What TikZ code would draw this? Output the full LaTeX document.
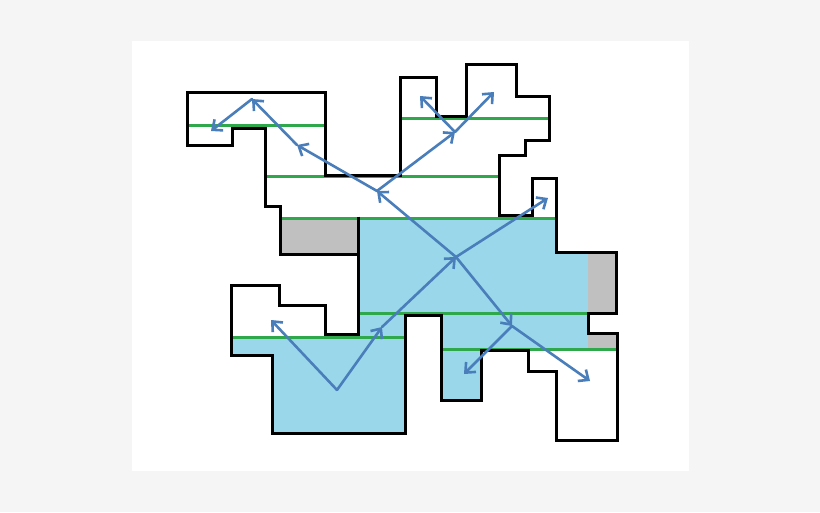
\documentclass[tikz,border=0pt]{standalone}
\usetikzlibrary{arrows.meta}
\definecolor{bg}{HTML}{F5F5F5}
\definecolor{pool}{HTML}{9AD7EA}
\definecolor{rock}{HTML}{C0C0C0}
\definecolor{lev}{HTML}{2EA84A}
\definecolor{ray}{HTML}{4A7EBB}
\tikzset{
  wall/.style={draw=black, line width=3pt, line join=miter},
  level/.style={draw=lev, line width=3pt},
  rayarrow/.style={draw=ray, line width=2.6pt, line cap=round,
    -{Straight Barb[length=8pt,width=14pt,line width=2.6pt]}}
}
\begin{document}
\begin{tikzpicture}[x=1pt,y=-1pt]
\fill[bg] (0,0) rectangle (820,512);
\useasboundingbox (0,0) rectangle (820,512);
\fill[white] (132,41) rectangle (689,471);
% water
\fill[pool] (359,218) -- (556,218) -- (556,252) -- (588,252) -- (588,349) -- (481.7,349)
  -- (481.7,400) -- (441.7,400) -- (441.7,315.7) -- (405.7,315.7) -- (405.7,433.3)
  -- (272.3,433.3) -- (272.3,355) -- (231.7,355) -- (231.7,337) -- (358.3,337) -- cycle;
% grey blocks
\fill[rock] (280.7,218) rectangle (358,254);
\fill[rock] (588,252) rectangle (616,313);
\fill[rock] (588,333) rectangle (617.7,349);
% levels
\draw[level] (187,125) -- (325,125);
\draw[level] (400,118.5) -- (551,118.5);
\draw[level] (265,176.7) -- (498,176.7);
\draw[level] (280,218) -- (556,218);
\draw[level] (360,313.5) -- (588,313.5);
\draw[level] (232,337) -- (405,337);
\draw[level] (441,349) -- (618,349);
% walls
\draw[wall] (187.3,92) -- (325.7,92) -- (325.7,175) -- (400.7,175) -- (400.7,77.3)
  -- (436,77.3) -- (436,116.7) -- (466.7,116.7) -- (466.7,64) -- (516.7,64)
  -- (516.7,96.7) -- (549.3,96.7) -- (549.3,140) -- (525.7,140) -- (525.7,155)
  -- (499.3,155) -- (499.3,215) -- (532.3,215) -- (532.3,178.3) -- (556,178.3)
  -- (556,252.3) -- (616,252.3) -- (616,313.3) -- (588.3,313.3) -- (588.3,333.3)
  -- (617.7,333.3) -- (617.7,440) -- (556,440) -- (556,371) -- (528.3,371)
  -- (528.3,350.7) -- (481.7,350.7) -- (481.7,400) -- (441.7,400) -- (441.7,315.7)
  -- (405.7,315.7) -- (405.7,433.3) -- (272.3,433.3) -- (272.3,355) -- (231.7,355)
  -- (231.7,285) -- (279.3,285) -- (279.3,305) -- (325,305) -- (325,334.3)
  -- (358.3,334.3) -- (358.3,254) -- (280.7,254) -- (280.7,206) -- (265,206)
  -- (265,128.3) -- (232.3,128.3) -- (232.3,145) -- (187.3,145) -- cycle;
\draw[wall] (358.3,216.5) -- (358.3,254);
% ray points
\coordinate (V) at (337,390);
\coordinate (A) at (271,320);
\coordinate (B) at (382,327);
\coordinate (C) at (456,257);
\coordinate (D) at (548,198);
\coordinate (E) at (377,191);
\coordinate (F) at (297,145);
\coordinate (G) at (252,99);
\coordinate (H) at (211,131);
\coordinate (I) at (455,132);
\coordinate (J) at (420,96);
\coordinate (K) at (494,92);
\coordinate (L) at (512,326);
\coordinate (M) at (590,381);
\coordinate (N) at (464,374);
% rays
\draw[rayarrow] (V) -- (A);
\draw[rayarrow] (V) -- (B);
\draw[rayarrow] (B) -- (C);
\draw[rayarrow] (C) -- (D);
\draw[rayarrow] (C) -- (E);
\draw[rayarrow] (E) -- (F);
\draw[rayarrow] (F) -- (G);
\draw[rayarrow] (G) -- (H);
\draw[rayarrow] (E) -- (I);
\draw[rayarrow] (I) -- (J);
\draw[rayarrow] (I) -- (K);
\draw[rayarrow] (C) -- (L);
\draw[rayarrow] (L) -- (M);
\draw[rayarrow] (L) -- (N);
\end{tikzpicture}
\end{document}
